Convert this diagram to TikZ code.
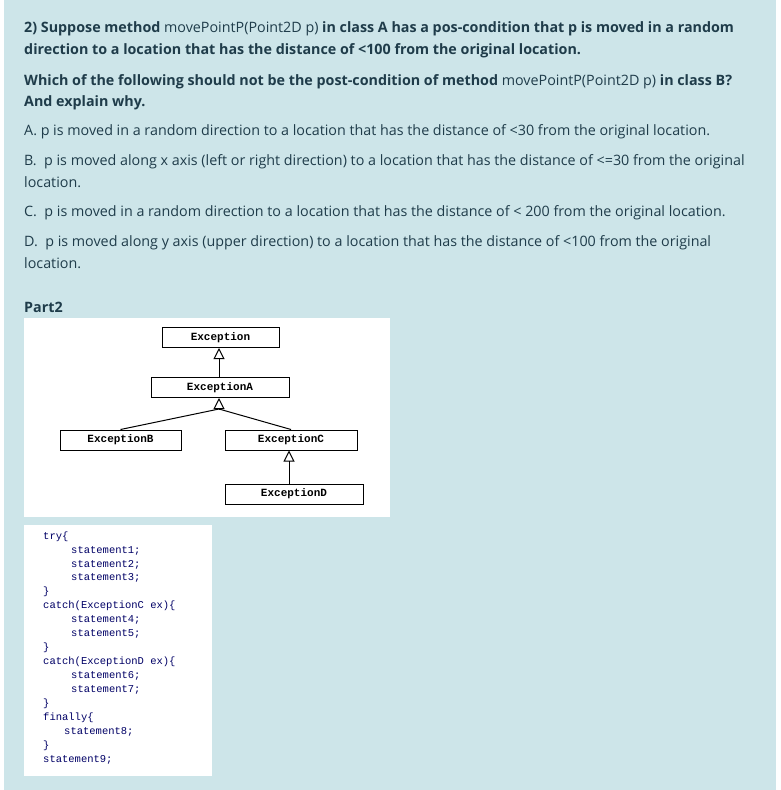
\documentclass[tikz,border=0pt]{standalone}
\usepackage{fontspec}
\setmainfont{Open Sans}
\setmonofont{Liberation Mono}
\usetikzlibrary{arrows.meta}
\definecolor{bgc}{HTML}{CDE5E9}
\definecolor{txc}{HTML}{1F3C4A}
\begin{document}
\begin{tikzpicture}[x=1pt,y=-1pt,
  txt/.style={anchor=base west,inner sep=0pt,text=txc,font=\fontsize{14.3}{16}\selectfont},
  bld/.style={txt,font=\fontsize{14.3}{16}\selectfont\bfseries},
  cls/.style={draw,line width=1pt,minimum height=20pt,inner sep=0pt,font=\ttfamily\bfseries\fontsize{11}{12}\selectfont},
  inh/.style={-{Triangle[open,length=11pt,width=11pt]},line width=1pt},
  code/.style={anchor=base west,inner sep=0pt,font=\ttfamily\fontsize{10.5}{12}\selectfont,text=blue!40!black}]
\useasboundingbox (0,0) rectangle (780,790);
\fill[bgc] (4,0) rectangle (776,790);
\node[bld] (l1) at (24,32) {2) Suppose method \mdseries movePointP(Point2D p) \bfseries in class A has a pos-condition that p is moved in a random};
\node[bld] (l2) at (24,54) {direction to a location that has the distance of <100 from the original location.};
\node[bld] (l3) at (24,85) {Which of the following should not be the post-condition of method \mdseries movePointP(Point2D p) \bfseries in class B?};
\node[bld] (l4) at (24,106) {And explain why.};
\node[txt] (a) at (24,135) {A. p is moved in a random direction to a location that has the distance of <30 from the original location.};
\node[txt] (b1) at (24,165) {B.\ \ p is moved along x axis (left or right direction) to a location that has the distance of <=30 from the original};
\node[txt] (b2) at (24,187) {location.};
\node[txt] (c) at (24,216) {C.\ \ p is moved in a random direction to a location that has the distance of < 200 from the original location.};
\node[txt] (d1) at (24,246) {D.\ \ p is moved along y axis (upper direction) to a location that has the distance of <100 from the original};
\node[txt] (d2) at (24,268) {location.};
\node[bld] (p2) at (24,312) {Part2};
\fill[white] (24,318) rectangle (390,517);
\node[cls,minimum width=117pt] (E) at (220.5,337.5) {Exception};
\node[cls,minimum width=138pt] (EA) at (220,387.5) {ExceptionA};
\node[cls,minimum width=121pt] (EB) at (120.5,440) {ExceptionB};
\node[cls,minimum width=132pt] (EC) at (291,440) {ExceptionC};
\node[cls,minimum width=138pt] (ED) at (294,494) {ExceptionD};
\coordinate (tA) at (219,409);
\draw[inh] (EA.north -| 219,0) -- (E.south -| 219,0);
\draw[line width=1pt] (EB.north) -- (tA) -- (EC.north);
\draw[inh] (tA) -- (EA.south -| tA);
\draw[inh] (ED.north -| 289,0) -- (EC.south -| 289,0);
\fill[white] (24,525) rectangle (212,776);
\node[code] (c1) at (43,539) {try\{};
\node[code] (c2) at (71,553) {statement1;};
\node[code] (c3) at (71,567) {statement2;};
\node[code] (c4) at (71,580) {statement3;};
\node[code] (c5) at (43,594) {\}};
\node[code] (c6) at (43,608) {catch(ExceptionC ex)\{};
\node[code] (c7) at (71,622) {statement4;};
\node[code] (c8) at (71,636) {statement5;};
\node[code] (c9) at (43,650) {\}};
\node[code] (c10) at (43,664) {catch(ExceptionD ex)\{};
\node[code] (c11) at (71,678) {statement6;};
\node[code] (c12) at (71,692) {statement7;};
\node[code] (c13) at (43,706) {\}};
\node[code] (c14) at (43,720) {finally\{};
\node[code] (c15) at (64,734) {statement8;};
\node[code] (c16) at (43,748) {\}};
\node[code] (c17) at (43,762) {statement9;};
\end{tikzpicture}
\end{document}
